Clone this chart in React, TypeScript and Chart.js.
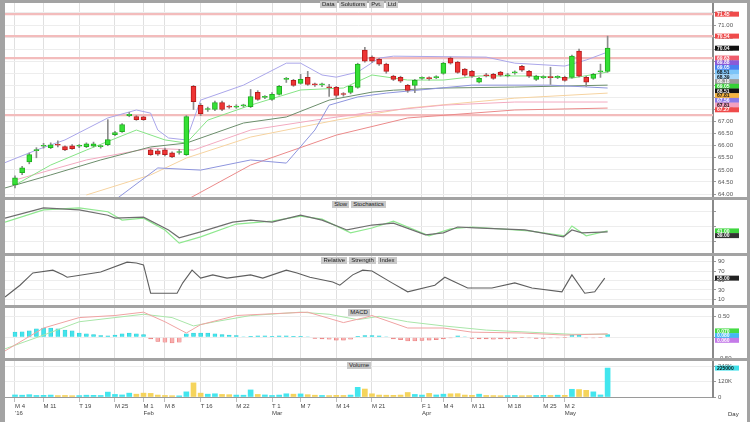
import React, { useEffect, useRef } from 'react';
import { Chart, registerables } from 'chart.js';

Chart.register(...registerables);

const FONT = '"Liberation Sans", Arial, sans-serif';

// ---------- data ----------
const titleWords = ['Data', 'Solutions', 'Pvt.', 'Ltd'];

const opens = [64.38, 64.88, 65.33, 65.8, 65.98, 65.92, 66.04, 65.96, 66.0, 65.98, 65.96, 65.98, 65.96, 66.04, 66.46, 66.58, 67.25, 67.21, 67.2, 65.83, 65.79, 65.83, 65.71, 65.72, 65.63, 68.46, 67.67, 67.5, 67.5, 67.79, 67.62, 67.6, 67.65, 67.62, 68.21, 68.0, 67.92, 68.13, 68.75, 68.71, 68.58, 68.83, 68.54, 68.52, 68.42, 68.42, 68.15, 68.21, 68.42, 69.96, 69.67, 69.58, 69.38, 68.88, 68.83, 68.5, 68.5, 68.79, 68.8, 68.82, 69.0, 69.63, 69.46, 69.17, 69.08, 68.63, 68.92, 68.96, 69.05, 68.9, 69.02, 69.29, 69.08, 68.75, 68.82, 68.84, 68.83, 68.83, 68.83, 69.92, 68.83, 68.79, 69.06, 69.08];
const highs = [64.75, 65.15, 65.7, 65.92, 66.1, 66.12, 66.2, 66.0, 66.05, 66.05, 66.12, 66.15, 66.02, 67.08, 66.6, 66.92, 67.38, 67.25, 67.22, 65.88, 65.85, 65.9, 65.75, 65.85, 67.25, 68.5, 67.75, 67.6, 67.85, 67.85, 67.68, 67.7, 67.72, 68.33, 68.28, 68.08, 68.2, 68.5, 68.83, 68.75, 68.96, 69.08, 68.6, 68.6, 68.54, 68.46, 68.2, 68.5, 69.42, 70.08, 69.72, 69.62, 69.42, 68.92, 68.88, 68.54, 68.75, 68.85, 68.85, 68.9, 69.46, 69.67, 69.5, 69.2, 69.12, 68.83, 69.0, 69.0, 69.08, 69.0, 69.1, 69.33, 69.12, 68.92, 68.9, 69.25, 68.9, 68.88, 69.75, 70.0, 68.88, 69.0, 69.38, 70.54];
const lows = [64.25, 64.8, 65.25, 65.5, 65.9, 65.88, 65.95, 65.8, 65.85, 65.92, 65.92, 65.95, 65.9, 66.0, 66.42, 66.55, 67.2, 67.05, 67.05, 65.6, 65.6, 65.58, 65.5, 65.65, 65.6, 67.5, 67.25, 67.42, 67.45, 67.45, 67.55, 67.55, 67.6, 67.58, 67.88, 67.95, 67.88, 68.1, 68.62, 68.46, 68.55, 68.5, 68.46, 68.45, 68.04, 68.0, 68.05, 68.15, 68.38, 69.46, 69.45, 69.33, 69.0, 68.7, 68.62, 68.21, 68.2, 68.75, 68.72, 68.78, 68.96, 69.38, 69.0, 68.88, 68.83, 68.6, 68.85, 68.75, 68.88, 68.85, 68.96, 69.08, 68.83, 68.7, 68.78, 68.54, 68.78, 68.67, 68.8, 68.85, 68.46, 68.75, 68.83, 69.04];
const closes = [64.67, 65.08, 65.63, 65.83, 66.02, 66.04, 66.02, 65.83, 65.88, 66.0, 66.08, 66.08, 65.98, 66.25, 66.54, 66.88, 67.3, 67.08, 67.08, 65.63, 65.65, 65.63, 65.54, 65.75, 67.21, 67.83, 67.33, 67.52, 67.79, 67.5, 67.6, 67.63, 67.68, 68.04, 67.92, 68.02, 68.13, 68.46, 68.78, 68.5, 68.75, 68.54, 68.52, 68.55, 68.4, 68.08, 68.12, 68.46, 69.38, 69.5, 69.5, 69.38, 69.08, 68.75, 68.67, 68.29, 68.71, 68.8, 68.78, 68.85, 69.42, 69.42, 69.04, 68.92, 68.88, 68.79, 68.9, 68.79, 68.92, 68.92, 69.04, 69.13, 68.88, 68.88, 68.84, 68.82, 68.85, 68.71, 69.71, 68.88, 68.63, 68.96, 69.08, 70.04];
const volumes = [16000, 14000, 18000, 12000, 13000, 15000, 11000, 12000, 10000, 11000, 14000, 13000, 12000, 38000, 20000, 16000, 30000, 22000, 30000, 28000, 15000, 12000, 10000, 9000, 40000, 110000, 30000, 22000, 25000, 20000, 18000, 15000, 14000, 55000, 20000, 16000, 12000, 15000, 25000, 22000, 24000, 18000, 14000, 12000, 11000, 13000, 12000, 15000, 75000, 62000, 25000, 15000, 14000, 13000, 15000, 35000, 20000, 15000, 28000, 16000, 22000, 25000, 26000, 15000, 13000, 22000, 12000, 11000, 10000, 11000, 12000, 10000, 11000, 12000, 13000, 12000, 14000, 13000, 60000, 58000, 52000, 40000, 16000, 225000];
const macdHist = [0.125, 0.13, 0.15, 0.2, 0.22, 0.22, 0.2, 0.17, 0.15, 0.1, 0.08, 0.06, 0.04, 0.03, 0.05, 0.08, 0.1, 0.08, 0.06, -0.04, -0.1, -0.12, -0.14, -0.12, 0.08, 0.1, 0.1, 0.1, 0.08, 0.06, 0.05, 0.04, 0.01, 0.02, 0.03, 0.03, 0.02, 0.03, 0.03, 0.02, 0.02, 0.01, -0.03, -0.04, -0.05, -0.07, -0.07, -0.05, 0.02, 0.04, 0.04, 0.03, 0.01, -0.04, -0.06, -0.09, -0.09, -0.08, -0.07, -0.06, -0.04, -0.02, 0.03, 0.01, -0.03, -0.04, -0.04, -0.05, -0.04, -0.04, -0.03, -0.01, -0.02, -0.03, -0.03, -0.02, -0.02, -0.01, 0.05, 0.05, -0.02, -0.02, -0.01, 0.06];

// overlay lines: [candle index, value]
const bbUpper: [number, number][] = [[-1.4, 65.3], [3, 65.82], [7, 66.24], [13, 67.15], [17, 67.48], [19, 67.35], [20, 66.65], [21.5, 66.32], [24, 66.24], [26, 67.89], [32, 68.51], [38, 69.42], [40, 69.42], [43, 68.93], [45, 68.84], [48, 69.05], [51, 69.63], [53, 69.71], [66, 69.67], [70, 69.42], [77, 69.3], [80, 69.55], [83, 69.88]];
const bbLower: [number, number][] = [[14, 63.75], [20, 65.08], [26, 64.99], [33, 65.41], [38, 65.28], [42, 66.65], [44, 67.68], [48, 68.02], [52, 68.18], [64, 68.51], [75, 68.51], [83, 68.39]];
const maSlow: [number, number][] = [[-1.4, 64.25], [5, 64.79], [12, 65.41], [19, 65.95], [24, 66.11], [32, 66.94], [38, 67.19], [44, 67.89], [50, 68.22], [53, 68.3], [60, 68.39], [70, 68.43], [83, 68.51]];
const maFast: [number, number][] = [[0, 64.37], [5, 65.2], [10, 65.82], [17, 66.65], [21, 66.24], [24, 66.11], [27, 67.06], [33, 67.68], [40, 68.31], [46, 68.39], [50, 68.93], [55, 68.72], [60, 68.72], [65, 68.89], [72, 68.89], [78, 68.8], [83, 69.05]];
const maPink: [number, number][] = [[0, 64.58], [10, 65.41], [19, 65.9], [25, 65.82], [33, 66.65], [42, 67.06], [50, 67.39], [60, 67.68], [70, 67.81], [83, 67.81]];
const maOrange: [number, number][] = [[10, 63.96], [19, 64.79], [24, 65.49], [33, 66.36], [45, 67.06], [55, 67.56], [70, 67.97], [83, 68.18]];
const maRed: [number, number][] = [[24, 63.75], [33, 65.2], [45, 66.44], [55, 67.15], [70, 67.48], [83, 67.56]];
const levels = [71.45, 70.54, 69.63, 67.27];

const stochK: [number, number][] = [[-1.4, 67], [4, 88], [9, 84], [13, 73], [14, 67], [18, 69], [21.5, 43], [23, 27], [26, 39], [30.5, 59], [33, 63], [36, 59], [40, 73], [43, 63], [46.5, 43], [50, 53], [53, 57], [57.5, 33], [60, 37], [62, 49], [64.4, 47], [71.4, 43], [76.8, 29], [78, 43], [79.4, 37], [83, 39]];
const stochD: [number, number][] = [[-1.4, 59], [4, 84], [9, 88], [13, 80], [15, 63], [18, 67], [21, 43], [23, 16], [26, 29], [31, 55], [36, 61], [40, 71], [43, 65], [47, 37], [50, 47], [53, 61], [58, 31], [61, 45], [64, 49], [72, 41], [77, 31], [78, 51], [80, 31], [83, 41]];
const rsi: [number, number][] = [[-1.4, 15], [0.7, 40], [2.5, 66], [5.3, 72], [6.7, 62], [7.3, 57], [12, 68], [15.7, 89], [17, 87], [18, 83], [19, 23], [22.7, 23], [23.5, 45], [24.8, 72], [26, 55], [27.7, 62], [29.7, 55], [33, 62], [34.7, 55], [38, 72], [39.5, 66], [41.3, 57], [44.5, 47], [45.5, 40], [47.3, 62], [48.7, 72], [50, 70], [52.8, 45], [55, 26], [58.8, 40], [60.2, 57], [61.6, 47], [63.4, 34], [66.8, 34], [70, 45], [72.4, 34], [76.6, 26], [78, 62], [79.8, 23], [81.2, 26], [82.6, 55]];
const macdLine: [number, number][] = [[-1.4, -0.33], [4, 0.22], [9, 0.47], [14, 0.52], [18, 0.6], [21, 0.37], [24, 0.1], [26, 0.3], [31, 0.52], [37, 0.57], [41, 0.6], [46, 0.35], [49, 0.47], [50, 0.52], [55, 0.22], [60, 0.22], [64, 0.12], [71, 0.1], [77, 0.05], [83, 0.08]];
const macdSignal: [number, number][] = [[-1.4, -0.28], [4, 0.05], [9, 0.37], [14, 0.47], [18, 0.55], [22, 0.47], [25, 0.27], [28, 0.37], [33, 0.52], [40, 0.6], [44, 0.55], [48, 0.42], [51, 0.5], [55, 0.37], [60, 0.27], [66, 0.17], [72, 0.12], [78, 0.07], [83, 0.07]];

const tickIdx = [0, 4, 9, 14, 18, 21, 26, 31, 36, 40, 45, 50, 57, 60, 64, 69, 74, 77];
const tickDay = ['M 4', 'M 11', 'T 19', 'M 25', 'M 1', 'M 8', 'T 16', 'M 22', 'T 1', 'M 7', 'M 14', 'M 21', 'F 1', 'M 4', 'M 11', 'M 18', 'M 25', 'M 2'];
const tickMonth = ["'16", '', '', '', 'Feb', '', '', '', 'Mar', '', '', '', 'Apr', '', '', '', '', 'May'];
const priceTicks = [64, 64.5, 65, 65.5, 66, 66.5, 67, 67.5, 68, 68.5, 69, 69.5, 70, 70.5, 71, 71.5];
const stochTicks = [20, 50, 80];
const rsiTicks = [10, 30, 50, 70, 90];
const macdTicks = [-0.5, 0, 0.5];
const volTicks = [0, 120000, 240000];

// ---------- helpers ----------
const X_MIN = -1.4;
const X_MAX = 97.76;

const pts = (pairs: [number, number][]) => pairs.map(([x, y]) => ({ x, y }));

function xScale(show: boolean): any {
  return {
    type: 'linear',
    min: X_MIN,
    max: X_MAX,
    offset: false,
    afterBuildTicks: (s: any) => {
      s.ticks = tickIdx.map((v) => ({ value: v }));
    },
    grid: { color: '#e0e0e0', offset: false, drawTicks: show, tickLength: 5, tickColor: '#bbb' },
    border: { display: show, color: '#9a9a9a', width: 1 },
    ticks: {
      display: show,
      autoSkip: false,
      maxRotation: 0,
      align: 'start',
      padding: 1,
      color: '#444',
      font: { size: 6, family: FONT },
      callback: (_v: any, i: number) => [tickDay[i] || '', tickMonth[i] || ''],
    },
    afterFit: (s: any) => {
      s.height = show ? 25 : 0;
      s.paddingLeft = 0;
      s.paddingRight = 0;
    },
  };
}

function yScale(min: number, max: number, ticks: number[], fmt: (v: number) => string): any {
  return {
    type: 'linear',
    position: 'right',
    min,
    max,
    afterBuildTicks: (s: any) => {
      s.ticks = ticks.map((v) => ({ value: v }));
    },
    grid: { color: '#ededed', drawTicks: true, tickLength: 3, tickColor: '#999' },
    border: { display: true, color: '#8a8a8a', width: 2 },
    ticks: { autoSkip: false, padding: 2, color: '#555', font: { size: 6, family: FONT }, callback: (v: any) => fmt(Number(v)) },
    afterFit: (s: any) => {
      s.width = 34;
      s.paddingTop = 0;
      s.paddingBottom = 0;
    },
  };
}

type Box = { value: number; color: string; text?: string; label: string };

// fixed boxes sit at their value; stacked boxes are laid one under another from the first one's value
function boxPlugin(fixed: Box[], stacked: Box[]) {
  return {
    id: 'axisBoxes',
    afterDraw(chart: any) {
      const y = chart.scales.y;
      const ctx = chart.ctx;
      const x0 = chart.chartArea.right + 2;
      const h = 5;
      const step = 4.7;
      const draw = (it: Box, py: number) => {
        ctx.fillStyle = it.color;
        ctx.fillRect(x0, py - h / 2, 24, h);
        ctx.fillStyle = it.text || '#fff';
        ctx.fillText(it.label, x0 + 2, py + 0.3);
      };
      ctx.save();
      ctx.font = `bold 5px ${FONT}`;
      ctx.textBaseline = 'middle';
      fixed.forEach((it) => draw(it, y.getPixelForValue(it.value)));
      if (stacked.length) {
        const start = y.getPixelForValue(stacked[0].value);
        stacked.forEach((it, k) => draw(it, start + k * step));
      }
      ctx.restore();
    },
  };
}

const lineDs = (pairs: [number, number][], color: string, width = 1, order = 2): any => ({
  type: 'line',
  data: pts(pairs),
  borderColor: color,
  borderWidth: width,
  pointRadius: 0,
  fill: false,
  tension: 0,
  order,
});

const baseOptions = (scales: any) => ({
  responsive: false,
  animation: false as const,
  devicePixelRatio: 1,
  layout: { padding: 0 },
  plugins: { legend: { display: false }, tooltip: { enabled: false }, title: { display: false } },
  scales,
});

const last = (p: [number, number][]) => p[p.length - 1][1];

// ---------- panel configs ----------
function mainConfig(): any {
  const idx = opens.map((_, i) => i);
  const up = (i: number) => closes[i] >= opens[i];
  const lastClose = closes[closes.length - 1];
  const fixed: Box[] = [
    { value: levels[0], color: '#ef4b4b', label: levels[0].toFixed(2) },
    { value: levels[1], color: '#ef4b4b', label: levels[1].toFixed(2) },
    { value: lastClose, color: '#111', label: lastClose.toFixed(2) },
  ];
  const stacked: Box[] = [
    { value: levels[2], color: '#ef5b6b', label: levels[2].toFixed(2) },
    { value: last(bbUpper), color: '#8a5ad8', label: last(bbUpper).toFixed(2) },
    { value: last(maFast), color: '#4a7ff0', label: last(maFast).toFixed(2) },
    { value: last(maSlow), color: '#7cc4f8', text: '#111', label: last(maSlow).toFixed(2) },
    { value: last(bbLower), color: '#a8d8fa', text: '#111', label: last(bbLower).toFixed(2) },
    { value: last(maOrange), color: '#9a9a9a', label: last(maOrange).toFixed(2) },
    { value: last(maFast), color: '#35d035', label: last(maFast).toFixed(2) },
    { value: last(maSlow), color: '#111', label: last(maSlow).toFixed(2) },
    { value: last(maPink), color: '#f3b340', text: '#111', label: last(maPink).toFixed(2) },
    { value: last(maRed), color: '#8a7ae8', label: last(maRed).toFixed(2) },
    { value: last(maPink), color: '#f2a0c0', text: '#111', label: last(maPink).toFixed(2) },
    { value: levels[3], color: '#ef4b4b', label: levels[3].toFixed(2) },
  ];
  return {
    type: 'bar',
    data: {
      datasets: [
        {
          type: 'bar',
          data: idx.map((i) => ({ x: i, y: [opens[i], closes[i]] })),
          backgroundColor: idx.map((i) => (up(i) ? '#35e035' : '#ee3434')),
          borderColor: idx.map((i) => (up(i) ? '#1fae1f' : '#b91c1c')),
          borderWidth: 1,
          borderSkipped: false,
          barThickness: 5,
          minBarLength: 1,
          grouped: false,
          order: 0,
        },
        {
          type: 'bar',
          data: idx.map((i) => ({ x: i, y: [lows[i], highs[i]] })),
          backgroundColor: '#8c8c8c',
          borderWidth: 0,
          barThickness: 1,
          grouped: false,
          order: 1,
        },
        lineDs(bbUpper, '#aaa6ea'),
        lineDs(bbLower, '#8e95de'),
        lineDs(maSlow, '#6c8e6c'),
        lineDs(maFast, '#86e486'),
        lineDs(maPink, '#f3aac0'),
        lineDs(maOrange, '#f6d3a0'),
        lineDs(maRed, '#eb8a8a'),
        ...levels.map((v) => lineDs([[X_MIN, v], [X_MAX, v]], '#f3bcbc', 2.2, 3)),
      ],
    },
    options: baseOptions({ x: xScale(false), y: yScale(63.876, 71.912, priceTicks, (v) => v.toFixed(2)) }),
    plugins: [boxPlugin(fixed, stacked)],
  };
}

function stochConfig(): any {
  const stacked: Box[] = [
    { value: last(stochD), color: '#3ed63e', label: last(stochD).toFixed(2) },
    { value: last(stochK), color: '#333', label: last(stochK).toFixed(2) },
  ];
  return {
    type: 'line',
    data: { datasets: [lineDs(stochK, '#6f6f6f', 1.2, 0), lineDs(stochD, '#8fe88f', 1.2, 1)] },
    options: baseOptions({ x: xScale(false), y: yScale(-4, 104, stochTicks, () => '') }),
    plugins: [boxPlugin([], stacked)],
  };
}

function rsiConfig(): any {
  const fixed: Box[] = [{ value: last(rsi), color: '#222', label: last(rsi).toFixed(2) }];
  return {
    type: 'line',
    data: { datasets: [lineDs(rsi, '#5e5e5e', 1.1, 0)] },
    options: baseOptions({ x: xScale(false), y: yScale(-2, 102, rsiTicks, (v) => String(v)) }),
    plugins: [boxPlugin(fixed, [])],
  };
}

function macdConfig(): any {
  const idx = macdHist.map((_, i) => i);
  const lastH = macdHist[macdHist.length - 1];
  const stacked: Box[] = [
    { value: last(macdSignal) + 0.08, color: '#45dc45', label: last(macdSignal).toFixed(3) },
    { value: last(macdLine), color: '#45b8f2', label: last(macdLine).toFixed(3) },
    { value: lastH, color: '#c47ae8', label: lastH.toFixed(3) },
  ];
  return {
    type: 'bar',
    data: {
      datasets: [
        lineDs(macdLine, '#f0a3a3', 1, 0),
        lineDs(macdSignal, '#a9e6a9', 1, 1),
        {
          type: 'bar',
          data: idx.map((i) => ({ x: i, y: macdHist[i] })),
          backgroundColor: idx.map((i) => (macdHist[i] >= 0 ? '#44e4ec' : '#f8b0b0')),
          borderColor: idx.map((i) => (macdHist[i] >= 0 ? '#2cc8d0' : '#e46a6a')),
          borderWidth: 0.6,
          barThickness: 4,
          grouped: false,
          order: 2,
        },
      ],
    },
    options: baseOptions({ x: xScale(false), y: yScale(-0.5, 0.7, macdTicks, (v) => v.toFixed(2)) }),
    plugins: [boxPlugin([], stacked)],
  };
}

function volConfig(): any {
  const idx = volumes.map((_, i) => i);
  const up = (i: number) => closes[i] >= opens[i];
  const lastV = volumes[volumes.length - 1];
  const fixed: Box[] = [{ value: lastV, color: '#3fe0ea', text: '#111', label: String(lastV) }];
  return {
    type: 'bar',
    data: {
      datasets: [
        {
          type: 'bar',
          data: idx.map((i) => ({ x: i, y: volumes[i] })),
          backgroundColor: idx.map((i) => (up(i) ? '#42e6ee' : '#f5d45c')),
          borderWidth: 0,
          barThickness: 5,
          grouped: false,
        },
      ],
    },
    options: baseOptions({ x: xScale(true), y: yScale(0, 280000, volTicks, (v) => (v === 0 ? '0' : v / 1000 + 'K')) }),
    plugins: [boxPlugin(fixed, [])],
  };
}

// ---------- layout ----------
const panels = [
  { key: 'main', top: 3, height: 194, make: mainConfig },
  { key: 'stoch', top: 200, height: 53, make: stochConfig },
  { key: 'rsi', top: 256, height: 49, make: rsiConfig },
  { key: 'macd', top: 308, height: 50, make: macdConfig },
  { key: 'vol', top: 361, height: 61, make: volConfig },
];

const labelStyle: React.CSSProperties = {
  position: 'absolute',
  left: 5,
  width: 708,
  display: 'flex',
  justifyContent: 'center',
  gap: 2,
  fontFamily: FONT,
  fontSize: 6,
  lineHeight: '7px',
  color: '#222',
  pointerEvents: 'none',
};

function Words({ words, top }: { words: string[]; top: number }) {
  return (
    <div style={{ ...labelStyle, top }}>
      {words.map((w, i) => (
        <span key={i} style={{ background: '#c9c9c9', padding: '0 2px' }}>
          {w}
        </span>
      ))}
    </div>
  );
}

export default function App() {
  const refs = useRef<(HTMLCanvasElement | null)[]>([]);

  useEffect(() => {
    const charts = panels.map((p, i) => new Chart(refs.current[i] as HTMLCanvasElement, p.make()));
    return () => charts.forEach((c) => c.destroy());
  }, []);

  return (
    <div
      style={{
        position: 'fixed',
        left: 0,
        top: 0,
        width: 750,
        height: 422,
        background: '#a3a3a3',
        overflow: 'hidden',
      }}
    >
      {panels.map((p, i) => (
        <canvas
          key={p.key}
          ref={(el) => {
            refs.current[i] = el;
          }}
          width={742}
          height={p.height}
          style={{ position: 'absolute', left: 5, top: p.top, width: 742, height: p.height, background: '#fff' }}
        />
      ))}
      <Words words={titleWords} top={1} />
      <Words words={['Slow', 'Stochastics']} top={201} />
      <Words words={['Relative', 'Strength', 'Index']} top={257} />
      <Words words={['MACD']} top={309} />
      <Words words={['Volume']} top={362} />
      <div style={{ position: 'absolute', left: 728, top: 411, fontFamily: FONT, fontSize: 6, color: '#333' }}>Day</div>
    </div>
  );
}
